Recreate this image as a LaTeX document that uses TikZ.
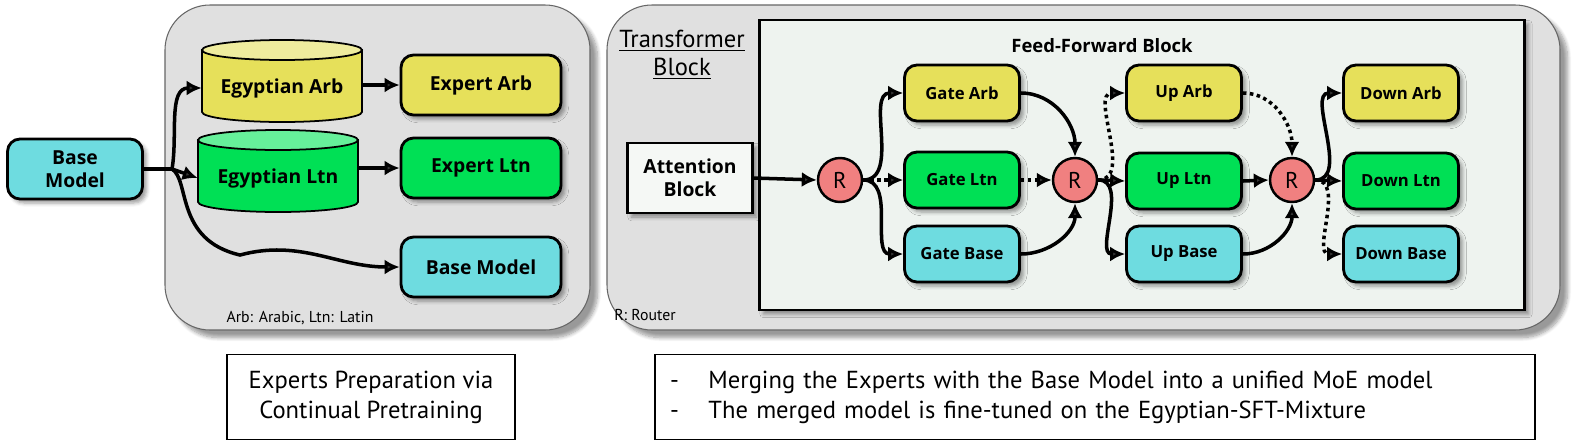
\documentclass[tikz,border=0pt]{standalone}
\usepackage{fontspec}
\setmainfont{Open Sans}
\newfontfamily\capfont{PT Sans}
\usetikzlibrary{arrows.meta,shapes.geometric,shadows.blur}
\definecolor{cyel}{HTML}{E6E05A}
\definecolor{cyeltop}{HTML}{EFEC9E}
\definecolor{cgrn}{HTML}{00E055}
\definecolor{cgrntop}{HTML}{66F09A}
\definecolor{ccyan}{HTML}{6EDCE0}
\definecolor{cred}{HTML}{F08080}
\definecolor{cpanel}{HTML}{E0E0E0}
\definecolor{cff}{HTML}{EEF3EF}
\tikzset{
  panel/.style={draw=black!60, line width=0.6pt, fill=cpanel, rounded corners=0.9cm,
    blur shadow={shadow xshift=1.5mm, shadow yshift=-1.5mm, shadow blur steps=8}},
  box/.style={draw, line width=1.6pt, rounded corners=2.5mm, minimum width=3.2cm,
    minimum height=1.2cm, font=\bfseries\fontsize{11}{13}\selectfont, align=center,
    blur shadow={shadow xshift=0.8mm, shadow yshift=-0.8mm}},
  sbox/.style={box, minimum width=2.3cm, minimum height=1.12cm, font=\bfseries\fontsize{9.5}{11}\selectfont},
  cyltxt/.style={minimum width=3.2cm, minimum height=1.2cm, inner sep=0pt,
    font=\bfseries\fontsize{11}{13}\selectfont},
  cylline/.style={draw, line width=1pt},
  rt/.style={circle, draw, line width=1.4pt, fill=cred, minimum size=0.88cm, inner sep=0pt,
    font=\capfont\fontsize{13}{13}\selectfont},
  arr/.style={line width=2pt, -{Latex[length=3mm,width=3mm]}},
  darr/.style={arr, dotted},
  capbox/.style={draw, line width=1pt, fill=white, font=\capfont\fontsize{14}{17}\selectfont},
}
\begin{document}
\begin{tikzpicture}[x=0.02cm,y=-0.02cm]
\useasboundingbox (0,0) rectangle (1578,447);
% panels
\path[panel] (165,5) rectangle (590,330);
\path[panel] (607,5) rectangle (1560,330);
% cylinders
\path[cylline, fill=cyel] (202,50) -- (202,112) arc[start angle=180, end angle=360, x radius=80, y radius=-10] -- (362,50) -- cycle;
\path[cylline, fill=cyeltop] (282,50) ellipse[x radius=80, y radius=10];
\path[cylline, fill=cgrn] (198,140) -- (198,202) arc[start angle=180, end angle=360, x radius=80, y radius=-10] -- (358,140) -- cycle;
\path[cylline, fill=cgrntop] (278,140) ellipse[x radius=80, y radius=10];
% left part
\node[box, fill=ccyan, minimum width=2.7cm] (bm) at (75,169) {Base\\Model};
\node[cyltxt] (ea) at (282,88) {Egyptian Arb};
\node[cyltxt] (el) at (278,178) {Egyptian Ltn};
\node[box, fill=cyel] (xa) at (481,85) {Expert Arb};
\node[box, fill=cgrn] (xl) at (481,168) {Expert Ltn};
\node[box, fill=ccyan] (xb) at (481,267) {Base Model};
\node[font=\capfont\fontsize{9}{11}\selectfont] (lg1) at (300,318) {Arb: Arabic, Ltn: Latin};
\coordinate (sp) at (172,169);
\draw[line width=2pt] (bm.east) -- (sp);
\draw[arr] (sp) to[out=80,in=180] (ea.west);
\draw[arr] (sp) -- (el.west);
\draw[arr] (sp) .. controls (190,180) and (175,240) .. (240,255) to[out=15,in=180] (xb.west);
\draw[arr] (ea.east |- xa) -- (xa.west);
\draw[arr] (el.east |- xl) -- (xl.west);
% right part
\node[font=\capfont\fontsize{14}{16}\selectfont, align=center] (tb) at (682,55) {\underline{Transformer}\\\underline{Block}};
\node[font=\capfont\fontsize{9}{11}\selectfont] (lg2) at (645,315) {R: Router};
\node[draw, line width=1.4pt, fill=cff, minimum width=15.3cm, minimum height=5.8cm,
  blur shadow={shadow xshift=0.8mm, shadow yshift=-0.8mm}] (ff) at (1142,165) {};
\node[font=\bfseries\fontsize{10.5}{12}\selectfont] (fft) at (1102,46) {Feed-Forward Block};
\node[box, rounded corners=0pt, line width=1.2pt, fill=cff!60!white, minimum width=2.5cm, minimum height=1.4cm] (att) at (690,178) {Attention\\Block};
\node[rt] (r1) at (840,180) {R};
\node[rt] (r2) at (1075,180) {R};
\node[rt] (r3) at (1292,180) {R};
\node[sbox, fill=cyel] (ga) at (962,93) {Gate Arb};
\node[sbox, fill=cgrn] (gl) at (962,180) {Gate Ltn};
\node[sbox, fill=ccyan] (gb) at (962,254) {Gate Base};
\node[sbox, fill=cyel] (ua) at (1184,93) {Up Arb};
\node[sbox, fill=cgrn] (ul) at (1184,181) {Up Ltn};
\node[sbox, fill=ccyan] (ub) at (1184,254) {Up Base};
\node[sbox, fill=cyel] (da) at (1401,93) {Down Arb};
\node[sbox, fill=cgrn] (dl) at (1401,181) {Down Ltn};
\node[sbox, fill=ccyan] (db) at (1401,254) {Down Base};
\draw[arr] (att.east) -- (r1.west);
\draw[arr] (r1.east) to[out=0,in=180] (ga.west);
\draw[darr] (r1.east) -- (gl.west);
\draw[arr] (r1.east) to[out=0,in=180] (gb.west);
\draw[arr] (ga.east) to[out=0,in=90] (r2.north);
\draw[darr] (gl.east) -- (r2.west);
\draw[arr] (gb.east) to[out=0,in=-90] (r2.south);
\draw[darr] (r2.east) to[out=0,in=180] (ua.west);
\draw[arr] (r2.east) -- (ul.west);
\draw[arr] (r2.east) to[out=0,in=180] (ub.west);
\draw[darr] (ua.east) to[out=0,in=90] (r3.north);
\draw[arr] (ul.east) -- (r3.west);
\draw[arr] (ub.east) to[out=0,in=-90] (r3.south);
\draw[arr] (r3.east) to[out=0,in=180] (da.west);
\draw[arr] (r3.east) -- (dl.west);
\draw[darr] (r3.east) to[out=0,in=180] (db.west);
% captions
\node[capbox, minimum width=5.75cm, minimum height=1.7cm, align=center] (c1) at (371,397)
  {Experts Preparation via\\Continual Pretraining};
\node[capbox, minimum width=17.6cm, minimum height=1.7cm, align=left, text width=17cm] (c2) at (1095,397)
  {-\hspace{1.2em}Merging the Experts with the Base Model into a unified MoE model\\
   -\hspace{1.2em}The merged model is fine-tuned on the Egyptian-SFT-Mixture};
\end{tikzpicture}
\end{document}
